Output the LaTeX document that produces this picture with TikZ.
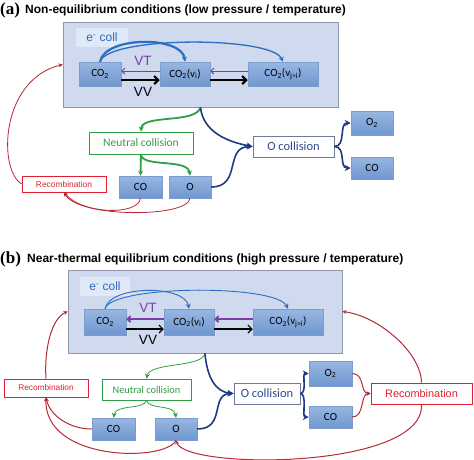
\documentclass[tikz,border=0pt]{standalone}
\usepackage{fontspec}
\setmainfont{Liberation Sans}
\newfontfamily\calfont{Carlito}
\newfontfamily\tagserif{Liberation Serif}
\usepackage{xcolor}
\usepackage{tikz}
\usetikzlibrary{arrows.meta}

\definecolor{panelfill}{HTML}{CFDAEF}
\definecolor{panelgray}{HTML}{8E97A8}
\definecolor{ecollfill}{HTML}{DFE9F7}
\definecolor{ecollblue}{HTML}{2D6DC2}
\definecolor{spectop}{HTML}{98B7E2}
\definecolor{specbot}{HTML}{6F97CF}
\definecolor{specline}{HTML}{7C9CCB}
\definecolor{vtpurple}{HTML}{7B3FA3}
\definecolor{neutgreen}{HTML}{2F9E45}
\definecolor{navy}{HTML}{1F3A80}
\definecolor{ocollgray}{HTML}{6E7B98}
\definecolor{ocolltext}{HTML}{2F4B8C}
\definecolor{recline}{HTML}{B52A35}
\definecolor{rectext}{HTML}{E2202F}

\begin{document}
\begin{tikzpicture}[x=1pt, y=-1pt,
  panel/.style={draw=panelgray, fill=panelfill, line width=0.7pt, inner sep=0},
  ecoll/.style={fill=ecollfill, text=ecollblue, inner sep=0, font=\fontsize{12}{12}\selectfont},
  species/.style={draw=specline, top color=spectop, bottom color=specbot, line width=0.5pt, inner sep=0, font=\calfont\fontsize{11}{11}\selectfont},
  neutral/.style={draw=neutgreen, fill=white, text=neutgreen, line width=0.8pt, inner sep=0},
  ocoll/.style={draw=ocollgray, fill=white, text=ocolltext, line width=0.8pt, inner sep=0, font=\calfont\fontsize{12.5}{13}\selectfont},
  recbox/.style={draw=rectext, fill=white, text=rectext, line width=0.6pt, inner sep=0},
  ebond/.style={ecollblue, -{Stealth[length=5pt, width=5pt]}},
  vtarrow/.style={vtpurple, -{Straight Barb[length=3pt, width=6pt]}},
  vvarrow/.style={black, -{Straight Barb[length=4pt, width=8pt]}},
  greenarrow/.style={neutgreen, -{Stealth[length=5pt, width=5pt]}},
  navyarrow/.style={navy, line width=1.6pt, -{Stealth[length=6pt, width=6pt]}},
  redarrow/.style={recline, -{Stealth[length=4pt, width=4pt]}},
  tagtext/.style={anchor=west, inner sep=0, font=\tagserif\bfseries\fontsize{17}{17}\selectfont},
  titletext/.style={anchor=west, inner sep=0, font=\bfseries\fontsize{12}{12}\selectfont},
  reaction/.style={inner sep=0, font=\fontsize{13.5}{14}\selectfont}]
\useasboundingbox (0,0) rectangle (474,459);

% (a) non-equilibrium
\node[tagtext] (tagA) at (0,10) {(a)};
\node[titletext] (titleA) at (25,10) {Non-equilibrium conditions (low pressure / temperature)};
\node[panel, minimum width=275, minimum height=85] (boxA) at (200.5,64.5) {};
\node[ecoll, minimum width=52, minimum height=19] (ecollA) at (102,37.5) {e\textsuperscript{-} coll};
\node[species, minimum width=42, minimum height=24] (co2A) at (100,74) {CO\textsubscript{2}};
\node[species, minimum width=50, minimum height=24] (co2viA) at (185,74) {CO\textsubscript{2}(v\textsubscript{i})};
\node[species, minimum width=70, minimum height=24] (co2vjA) at (283,74) {CO\textsubscript{2}(v\textsubscript{j>i})};
\node[reaction, text=vtpurple] (vtA) at (143,61) {VT};
\node[reaction] (vvA) at (143,92) {VV};
\node[neutral, minimum width=104, minimum height=22, font=\calfont\fontsize{11.5}{12}\selectfont] (neutA) at (141,143) {Neutral collision};
\node[species, minimum width=43, minimum height=22] (coA) at (140.5,187) {CO};
\node[species, minimum width=42, minimum height=22] (oA) at (190,187) {O};
\node[recbox, minimum width=84, minimum height=16, font=\fontsize{8.4}{9}\selectfont] (recA) at (64,184) {Recombination};
\node[ocoll, minimum width=81, minimum height=21] (ocollA) at (293.5,146.5) {O collision};
\node[species, minimum width=42, minimum height=24] (o2A) at (372,123) {O\textsubscript{2}};
\node[species, minimum width=42, minimum height=22] (coRA) at (372,168) {CO};

\draw[ebond, line width=2.2pt] (co2A.north) .. controls +(5,-26) and +(-3,-26) .. (co2viA.north);
\draw[ebond, line width=1.3pt] (co2A.north) .. controls (108,36) and (272,36) .. (co2vjA.north);
\draw[vtarrow, line width=0.9pt] ([yshift=3pt]co2viA.west) -- ([yshift=3pt]co2A.east);
\draw[vtarrow, line width=0.9pt] ([yshift=3pt]co2vjA.west) -- ([yshift=3pt]co2viA.east);
\draw[vvarrow, line width=2.2pt] ([yshift=-6pt]co2A.east) -- ([yshift=-6pt]co2viA.west);
\draw[vvarrow, line width=2.2pt] ([yshift=-6pt]co2viA.east) -- ([yshift=-6pt]co2vjA.west);
\draw[greenarrow, line width=1.8pt] (boxA.south) .. controls (196,124) and (142,114) .. (neutA.north);
\draw[greenarrow, line width=1.8pt] (neutA.south) -- (coA.north);
\draw[greenarrow, line width=1.8pt] (neutA.south) .. controls (142,168) and (188,158) .. (oA.north);
\draw[navyarrow] (boxA.south) .. controls (203,132) and (228,142) .. (ocollA.west);
\draw[navyarrow] (oA.east) .. controls (242,187) and (224,147) .. (ocollA.west);
\foreach \prod in {o2A, coRA}
  \draw[navyarrow] (ocollA.east) .. controls +(12,0) and +(-12,0) .. (\prod.west);
\draw[redarrow, line width=0.8pt] (recA.west) .. controls (-2,170) and (0,80) .. (boxA.west);
\draw[redarrow, line width=0.8pt] (coA.south) .. controls (138,216) and (82,214) .. (recA.south);
\draw[redarrow, line width=0.8pt] (oA.south) .. controls (188,218) and (78,218) .. (recA.south);

% (b) near-thermal equilibrium
\node[tagtext] (tagB) at (0,259) {(b)};
\node[titletext] (titleB) at (27,259) {Near-thermal equilibrium conditions (high pressure / temperature)};
\node[panel, minimum width=274, minimum height=83] (boxB) at (205,311.5) {};
\node[ecoll, minimum width=50, minimum height=19] (ecollB) at (105,286.5) {e\textsuperscript{-} coll};
\node[species, minimum width=42, minimum height=26] (co2B) at (105,322) {CO\textsubscript{2}};
\node[species, minimum width=50, minimum height=26] (co2viB) at (189,322) {CO\textsubscript{2}(v\textsubscript{i})};
\node[species, minimum width=70, minimum height=26] (co2vjB) at (288,322) {CO\textsubscript{2}(v\textsubscript{j>i})};
\node[reaction, text=vtpurple] (vtB) at (148,308) {VT};
\node[reaction] (vvB) at (148,340) {VV};
\node[neutral, minimum width=89, minimum height=21, font=\calfont\fontsize{10.3}{11}\selectfont] (neutB) at (146.5,389.5) {Neutral collision};
\node[species, minimum width=43, minimum height=22] (coB) at (113.5,429) {CO};
\node[species, minimum width=42, minimum height=22] (oB) at (176,429) {O};
\node[recbox, minimum width=84, minimum height=18, font=\fontsize{8.3}{9}\selectfont] (recLB) at (46,388) {Recombination};
\node[ocoll, minimum width=66, minimum height=21] (ocollB) at (267,393.5) {O collision};
\node[species, minimum width=43, minimum height=25] (o2B) at (330.5,373.5) {O\textsubscript{2}};
\node[species, minimum width=43, minimum height=22] (coRB) at (330.5,417) {CO};
\node[recbox, minimum width=101, minimum height=21, font=\fontsize{10.9}{11}\selectfont] (recRB) at (421.5,393.5) {Recombination};

\draw[ebond, line width=0.9pt] (co2B.north) .. controls +(5,-24) and +(-4,-24) .. (co2viB.north);
\draw[ebond, line width=0.9pt] (co2B.north) .. controls (112,285) and (276,284) .. (co2vjB.north);
\draw[vtarrow, line width=1.8pt] ([yshift=3pt]co2viB.west) -- ([yshift=3pt]co2B.east);
\draw[vtarrow, line width=1.8pt] ([yshift=3pt]co2vjB.west) -- ([yshift=3pt]co2viB.east);
\draw[vvarrow, line width=1.1pt] ([yshift=-7pt]co2B.east) -- ([yshift=-7pt]co2viB.west);
\draw[vvarrow, line width=1.1pt] ([yshift=-7pt]co2viB.east) -- ([yshift=-7pt]co2vjB.west);
\draw[greenarrow, line width=0.8pt] (boxB.south) .. controls (202,368) and (150,362) .. (neutB.north);
\draw[greenarrow, line width=0.8pt] (neutB.south) .. controls (144,410) and (116,404) .. (coB.north);
\draw[greenarrow, line width=0.8pt] (neutB.south) .. controls (149,410) and (174,404) .. (oB.north);
\draw[navyarrow] (boxB.south) .. controls (207,378) and (216,392) .. (ocollB.west);
\draw[navyarrow] (oB.east) .. controls (226,429) and (210,394) .. (ocollB.west);
\foreach \prod in {o2B, coRB}
  \draw[navyarrow] (ocollB.east) .. controls +(7,0) and +(-7,0) .. (\prod.west);
\draw[redarrow, line width=1pt] (o2B.east) .. controls (365,373.5) and (360,393.5) .. (recRB.west);
\draw[redarrow, line width=1pt] (coRB.east) .. controls (365,417) and (360,393.5) .. (recRB.west);
\draw[redarrow, line width=1pt] (recRB.north) .. controls (421,352) and (378,316) .. (boxB.east);
\draw[redarrow, line width=1pt] (recRB.south) .. controls (425,470) and (185,470) .. (oB.south);
\draw[redarrow, line width=1pt] (recLB.north) .. controls (44,348) and (52,318) .. (boxB.west);
\draw[redarrow, line width=1pt] (coB.west) .. controls (70,429) and (50,416) .. (recLB.south);
\draw[redarrow, line width=1pt] (oB.south) .. controls (166,462) and (44,462) .. (recLB.south);
\end{tikzpicture}
\end{document}
